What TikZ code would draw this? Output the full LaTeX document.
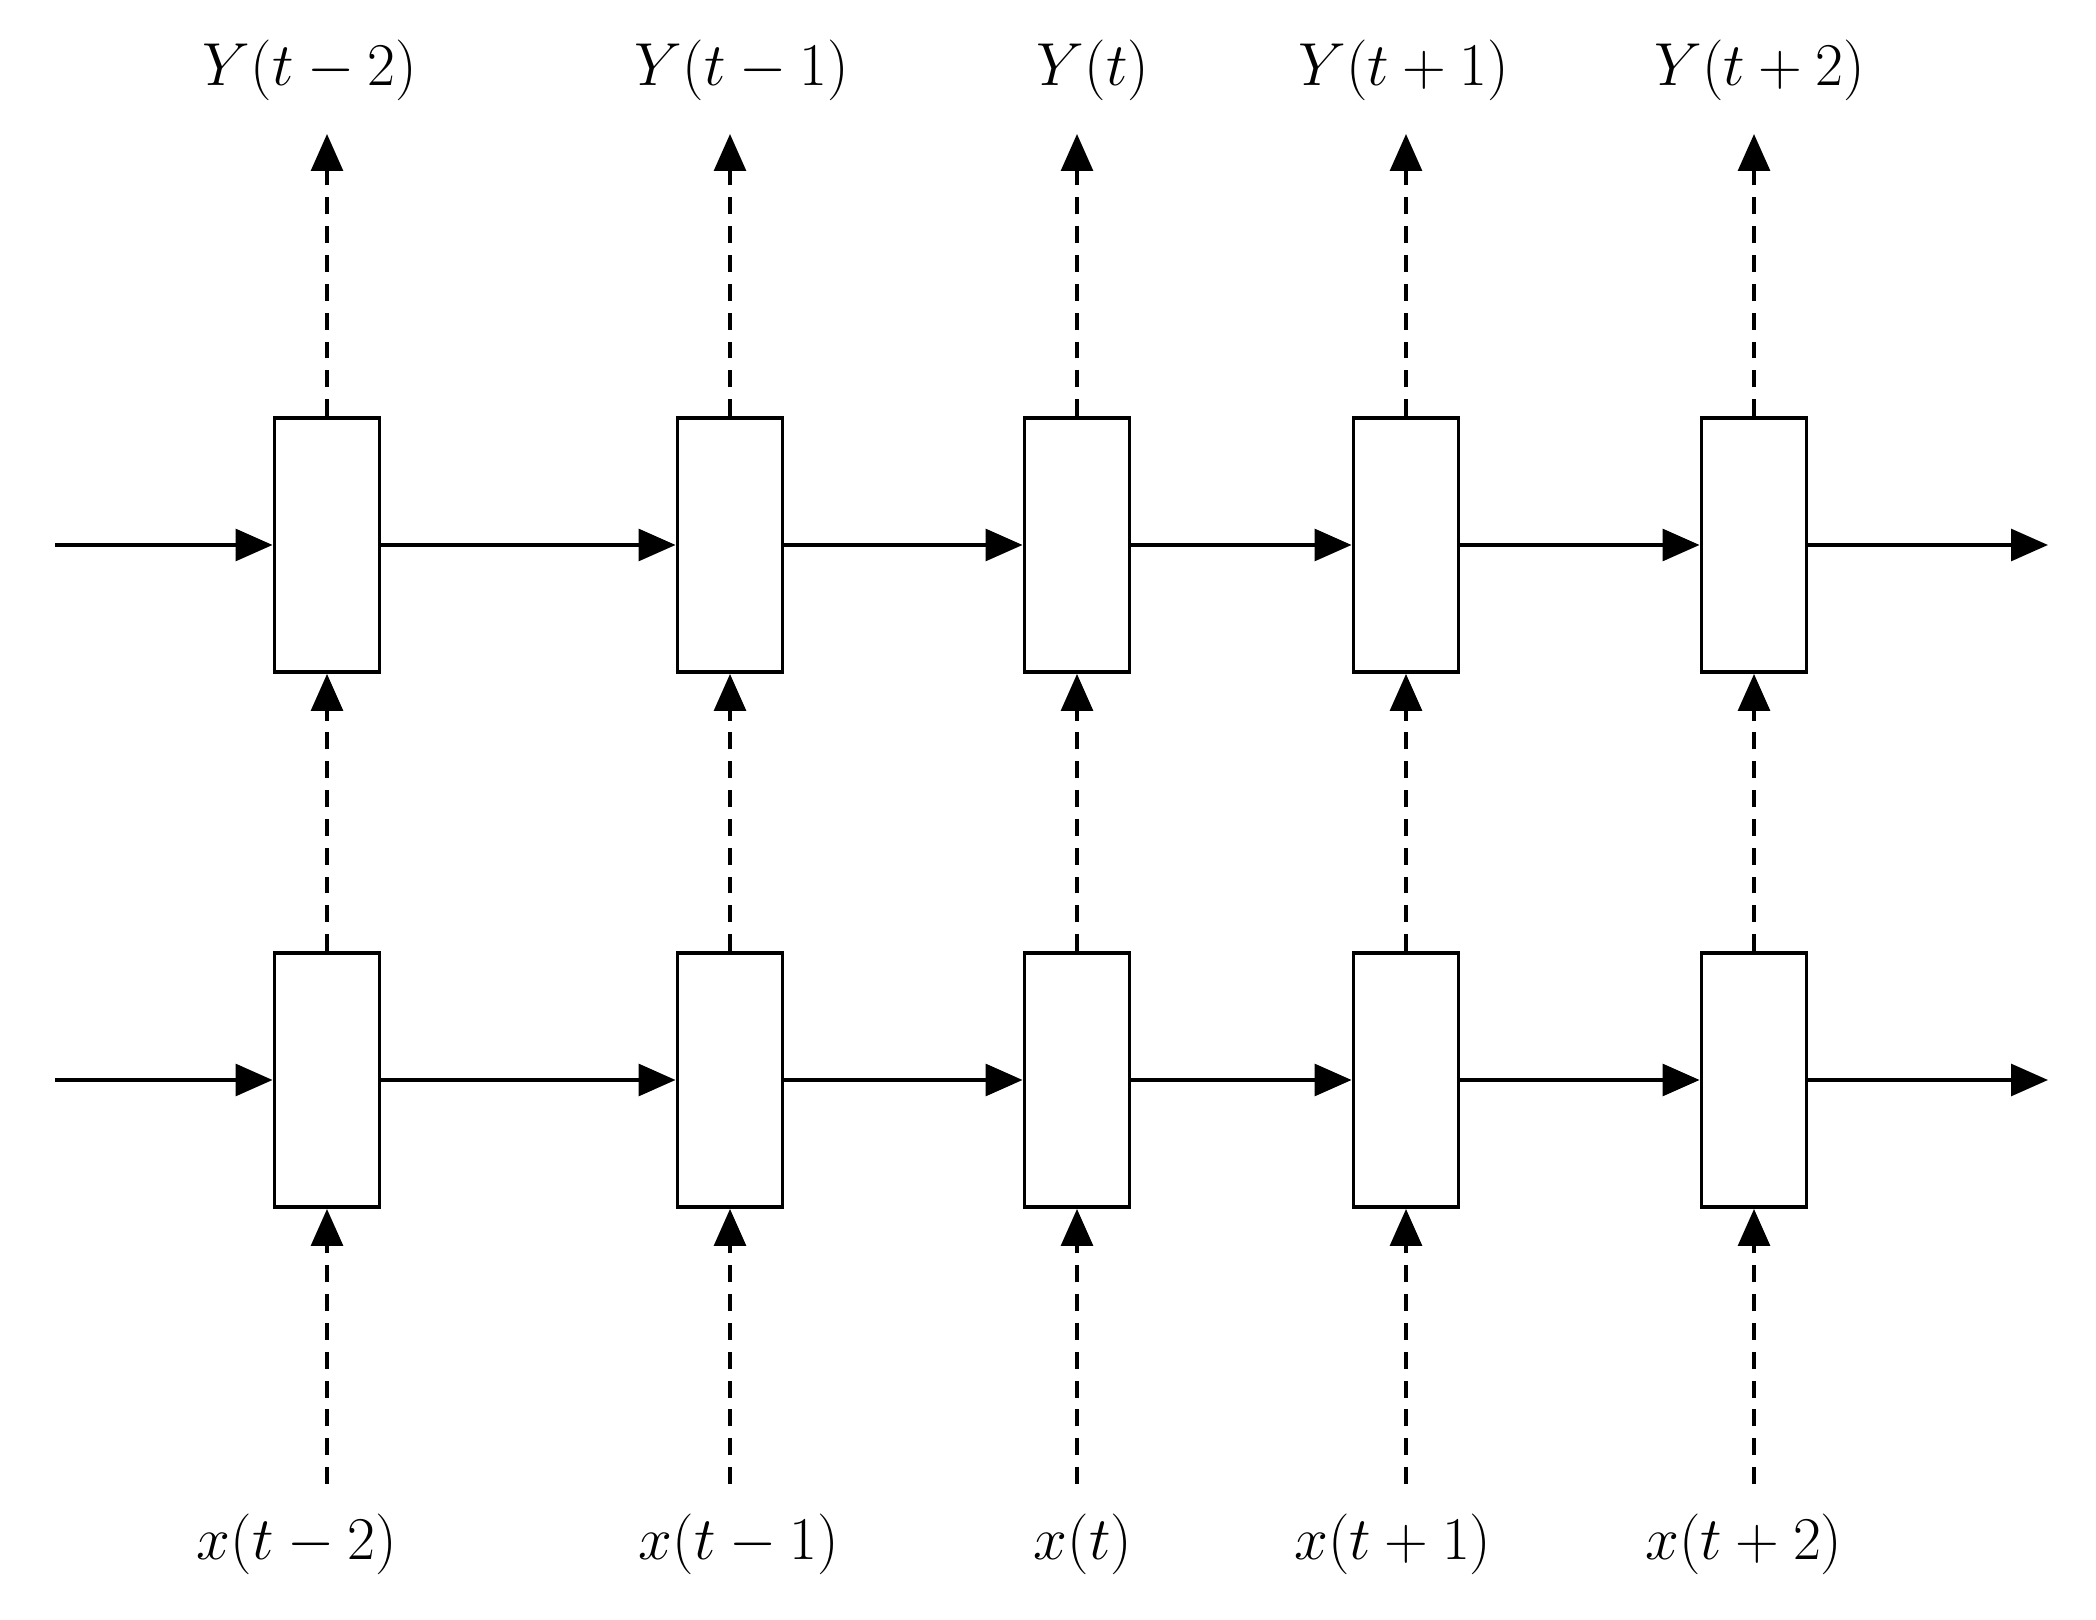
\documentclass[tikz,border=0pt]{standalone}
\usetikzlibrary{arrows.meta,positioning}
\begin{document}
\begin{tikzpicture}[
	cell/.style={draw, line width=1.1pt, minimum width=1.05cm, minimum height=2.54cm, inner sep=0pt},
	flow/.style={line width=1.1pt, -{Triangle[length=10.5pt,width=9pt]}},
	feed/.style={flow, dash pattern=on 4.8pt off 3.4pt},
	lab/.style={font=\fontsize{16}{19}\selectfont, inner sep=0pt}]
	\useasboundingbox (0,0) rectangle (20.96,16.19);
	% cells, arrow ends and labels per time step
	\foreach \i/\x/\ya/\xb/\s in {1/3.27/3.10/2.97/-2,2/7.30/7.42/7.39/-1,3/10.77/10.93/10.83/{},4/14.06/14.04/13.93/+1,5/17.54/17.60/17.44/+2}{
		\node[cell] at (\x,10.74) (u\i) {};
		\node[cell] at (\x,5.39) (l\i) {};
		\coordinate (t\i) at (\x,14.85);
		\coordinate (b\i) at (\x,1.35);
		\node[lab] at (\ya,15.49) (y\i) {$Y(t\s)$};
		\node[lab] at (\xb,0.75) (x\i) {$x(t\s)$};
		\draw[feed] (b\i) -- (l\i);
		\draw[feed] (l\i) -- (u\i);
		\draw[feed] (u\i) -- (t\i);
	}
	\coordinate (in1) at (0.55,10.74);
	\coordinate (in2) at (0.55,5.39);
	\coordinate (out1) at (20.48,10.74);
	\coordinate (out2) at (20.48,5.39);
	\draw[flow] (in1) -- (u1);
	\draw[flow] (in2) -- (l1);
	\foreach \i/\j in {1/2,2/3,3/4,4/5}{
		\draw[flow] (u\i) -- (u\j);
		\draw[flow] (l\i) -- (l\j);
	}
	\draw[flow] (u5) -- (out1);
	\draw[flow] (l5) -- (out2);
\end{tikzpicture}
\end{document}
